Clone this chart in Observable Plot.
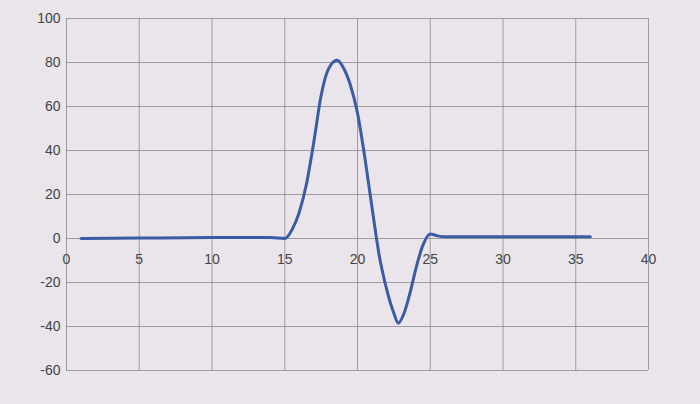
<!DOCTYPE html>
<html>
<head>
<meta charset="utf-8">
<script src="https://cdn.jsdelivr.net/npm/d3@7"></script>
<script src="https://cdn.jsdelivr.net/npm/@observablehq/plot@0.6"></script>
<style>
  html, body { margin: 0; padding: 0; background: #e9e5ea; }
  #chart { width: 700px; height: 404px; }
</style>
</head>
<body>
<div id="chart"></div>
<script>
const xValues = [1, 5, 10, 14, 15, 15.5, 16, 16.5, 17, 17.5, 18, 18.6, 19, 19.5, 20, 20.5, 21, 21.5, 22, 22.5, 22.8, 23.2, 23.6, 24, 24.5, 25, 25.5, 26, 30, 36];
const yValues = [0, 0.2, 0.4, 0.4, 0, 4, 12, 25, 44, 65, 77, 81, 78, 70, 57, 37, 14, -8, -23, -34, -38.5, -34, -25, -14, -3, 2, 1.2, 0.8, 0.8, 0.8];
const xTicks = [0, 5, 10, 15, 20, 25, 30, 35, 40];
const yTicks = [-60, -40, -20, 0, 20, 40, 60, 80, 100];

const data = xValues.map((x, i) => ({x, y: yValues[i]}));
const xLabels = xTicks.map(t => ({x: t, label: String(t)}));

const chart = Plot.plot({
  width: 700,
  height: 404,
  marginLeft: 66,
  marginRight: 52,
  marginTop: 18,
  marginBottom: 34,
  style: {background: "#e9e5ea", fontFamily: "Liberation Sans, Arial, sans-serif", fontSize: "14px", color: "#444"},
  x: {domain: [0, 40], ticks: xTicks, axis: null},
  y: {domain: [-60, 100], ticks: yTicks, axis: null},
  marks: [
    Plot.gridX(xTicks, {stroke: "#7d7d85", strokeOpacity: 0.7}),
    Plot.gridY(yTicks, {stroke: "#7d7d85", strokeOpacity: 0.7}),
    Plot.axisY({ticks: yTicks, tickSize: 0, tickPadding: 6, fontSize: 14, color: "#444", label: null, tickFormat: d => String(d)}),
    Plot.text(xLabels, {x: "x", y: () => 0, text: "label", dy: 21, fontSize: 14, fill: "#444"}),
    Plot.line(data, {x: "x", y: "y", curve: "monotone-x", stroke: "#3a5ba6", strokeWidth: 3})
  ]
});
document.getElementById("chart").appendChild(chart);
</script>
</body>
</html>
